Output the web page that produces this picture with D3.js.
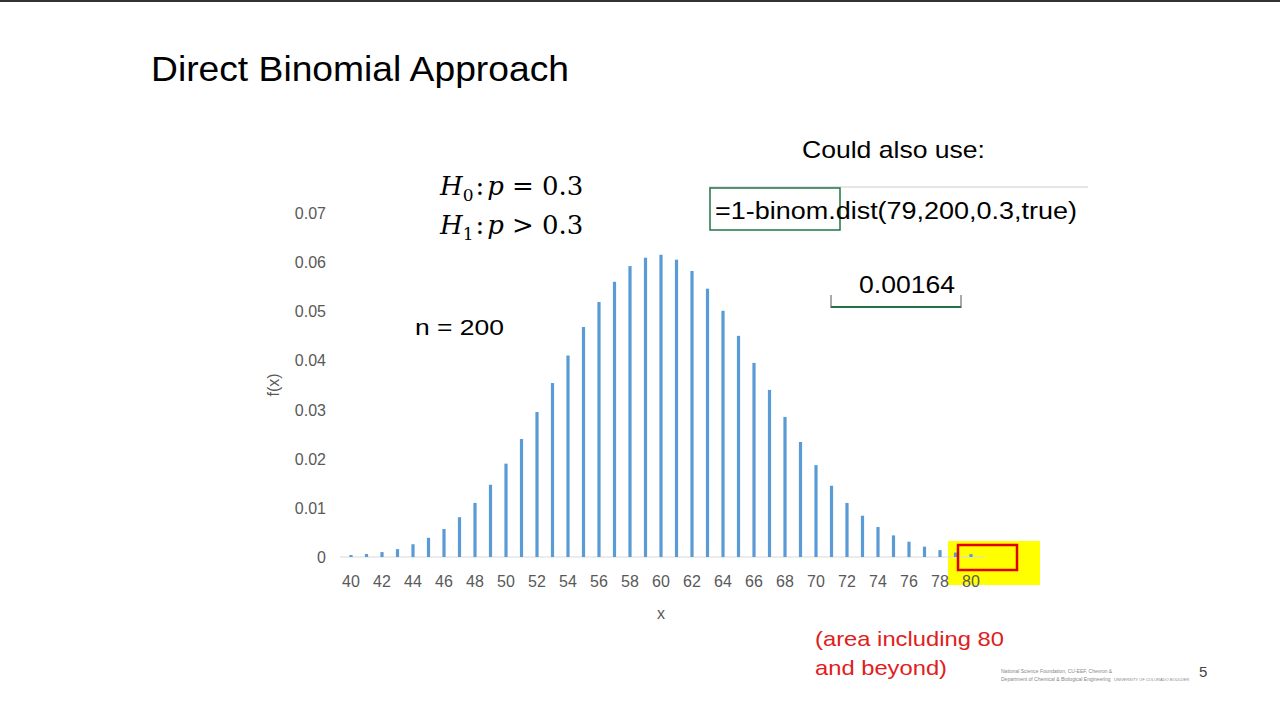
<!DOCTYPE html>
<html><head><meta charset="utf-8">
<script src="https://cdn.jsdelivr.net/npm/d3@7"></script>
<style>body{margin:0;background:#fff}svg{display:block}</style>
</head><body>
<script>
const xs = d3.range(40, 81);
const fx = [0.0004,0.0006,0.001,0.0016,0.0026,0.0039,0.0057,0.0081,0.011,0.0147,0.019,0.024,0.0295,0.0354,0.041,0.0468,0.0519,0.056,0.0592,0.0609,0.0615,0.0605,0.0582,0.0546,0.0501,0.045,0.0395,0.034,0.0285,0.0234,0.0187,0.0145,0.011,0.0084,0.0061,0.0044,0.0031,0.0021,0.0014,0.0009,0.0006];
const yTicks = [0,0.01,0.02,0.03,0.04,0.05,0.06,0.07];
const xTicks = d3.range(40, 81, 2);

const svg = d3.select("body").append("svg").attr("width",1280).attr("height",720);
svg.append("rect").attr("width",1280).attr("height",2).attr("fill","#333");
const SG = "spacingAndGlyphs";
svg.append("text").attr("x",151).attr("y",81).attr("font-family","Liberation Sans, Arial").attr("font-size",35).attr("textLength",418).attr("lengthAdjust",SG).text("Direct Binomial Approach");

const x = d3.scaleLinear().domain([40,80]).range([351,971]);
const y = d3.scaleLinear().domain([0,0.07]).range([557,213]);

svg.append("rect").attr("x",948).attr("y",541).attr("width",92).attr("height",44).attr("fill","#ffff00");

const g = svg.append("g").attr("font-family","Liberation Sans, Arial").attr("font-size",16).attr("fill","#595959");
svg.append("line").attr("x1",340).attr("x2",985).attr("y1",y(0)).attr("y2",y(0)).attr("stroke","#d9d9d9");
svg.append("g").selectAll("rect").data(xs).join("rect")
  .attr("x",d=>x(d)-1.6).attr("width",3.2)
  .attr("y",(d,i)=>y(fx[i])).attr("height",(d,i)=>y(0)-y(fx[i])).attr("fill","#5b9bd5");
g.selectAll(".yt").data(yTicks).join("text").attr("x",326).attr("y",d=>y(d)+6).attr("text-anchor","end")
  .text(d=>d===0?"0":d.toFixed(2));
g.selectAll(".xt").data(xTicks).join("text").attr("x",d=>x(d)).attr("y",587).attr("text-anchor","middle").text(d=>d);
g.append("text").attr("x",661).attr("y",619).attr("text-anchor","middle").text("x");
g.append("text").attr("transform","translate(279,385) rotate(-90)").attr("text-anchor","middle").text("f(x)");

svg.append("rect").attr("x",958).attr("y",545).attr("width",59).attr("height",25).attr("fill","none").attr("stroke","#e00000").attr("stroke-width",2.5);

const h = svg.append("g").attr("font-family","DejaVu Serif, serif").attr("font-size",26);
[[195,"0","= 0.3"],[234,"1","> 0.3"]].forEach(([yy,s,r])=>{
  const t=h.append("text").attr("x",440).attr("y",yy);
  t.append("tspan").attr("font-style","italic").text("H");
  t.append("tspan").attr("font-size",17).attr("dy",6).text(s);
  t.append("tspan").attr("dy",-6).attr("dx",2).text(":");
  t.append("tspan").attr("font-style","italic").attr("dx",3).text("p");
  t.append("tspan").attr("dx",8).text(r);
});
svg.append("text").attr("x",415).attr("y",335).attr("font-family","Liberation Sans, Arial").attr("font-size",22).attr("textLength",89).attr("lengthAdjust",SG).text("n = 200");

const f = svg.append("g").attr("font-family","Liberation Sans, Arial");
f.append("text").attr("x",802).attr("y",158).attr("font-size",24).attr("textLength",183).attr("lengthAdjust",SG).text("Could also use:");
f.append("line").attr("x1",709).attr("x2",1088).attr("y1",187).attr("y2",187).attr("stroke","#ccc");
f.append("rect").attr("x",710).attr("y",188).attr("width",130).attr("height",42).attr("fill","none").attr("stroke","#217346").attr("stroke-width",1.5);
f.append("text").attr("x",715).attr("y",219).attr("font-size",23).attr("textLength",362).attr("lengthAdjust",SG).text("=1-binom.dist(79,200,0.3,true)");
f.append("line").attr("x1",831).attr("x2",831).attr("y1",295).attr("y2",308).attr("stroke","#555");
f.append("line").attr("x1",961).attr("x2",961).attr("y1",295).attr("y2",308).attr("stroke","#555");
f.append("line").attr("x1",831).attr("x2",961).attr("y1",307).attr("y2",307).attr("stroke","#217346").attr("stroke-width",2);
f.append("text").attr("x",859).attr("y",293).attr("font-size",23).attr("textLength",96).attr("lengthAdjust",SG).text("0.00164");

f.append("text").attr("x",815).attr("y",646).attr("font-size",21).attr("fill","#e02020").attr("textLength",189).attr("lengthAdjust",SG).text("(area including 80");
f.append("text").attr("x",815).attr("y",675).attr("font-size",21).attr("fill","#e02020").attr("textLength",132).attr("lengthAdjust",SG).text("and beyond)");
f.append("text").attr("x",1001).attr("y",673).attr("font-size",5).attr("fill","#888").text("National Science Foundation, CU-EEF, Chevron &");
f.append("text").attr("x",1001).attr("y",681).attr("font-size",5).attr("fill","#888").text("Department of Chemical & Biological Engineering");
f.append("text").attr("x",1114).attr("y",681).attr("font-size",4).attr("fill","#888").text("UNIVERSITY OF COLORADO BOULDER");
f.append("text").attr("x",1199).attr("y",677).attr("font-size",15).attr("fill","#444").text("5");
</script>
</body></html>
